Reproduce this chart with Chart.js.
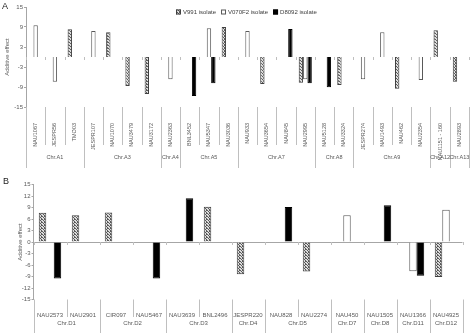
<!DOCTYPE html>
<html>
<head>
<meta charset="utf-8">
<script src="https://cdn.jsdelivr.net/npm/chart.js@4.4.1/dist/chart.umd.min.js"></script>
<style>
  body { margin: 0; background: #fff; }
  #wrap { position: relative; width: 474px; height: 335px; overflow: hidden; font-family: "Liberation Sans", Arial, sans-serif; }
  canvas { position: absolute; left: 0; }
  .panel { position: absolute; font-size: 9px; line-height: 9px; color: #222; }
</style>
</head>
<body>
<div id="wrap">
  <canvas id="chartA" width="474" height="168" style="top:0"></canvas>
  <canvas id="chartB" width="474" height="167" style="top:168px"></canvas>
  <div class="panel" style="left:2px;top:2px">A</div>
  <div class="panel" style="left:3px;top:177px">B</div>
</div>
<script>
// Axe des valeurs (commun aux deux panneaux)
const yMin = -15;
const yMax = 15;
const yStep = 3;

const seriesNames = ['V991 isolate', 'V070F2 isolate', 'D8092 isolate'];

// Panneau A
const catsA = ['NAU1067', 'JESPR56', 'TMO03', 'JESPR107', 'NAU1070', 'NAU3479', 'NAU3172', 'NAU2363',
  'BNL3452', 'NAU5347', 'NAU3036', 'NAU933', 'NAU3654', 'NAU845', 'NAU2995', 'NAU5128', 'NAU3324',
  'JESPR274', 'NAU1493', 'NAU462', 'NAU2354', 'NAU1151 - 160', 'NAU2893'];
const groupNamesA = ['Chr.A1', 'Chr.A3', 'Chr.A4', 'Chr.A5', 'Chr.A7', 'Chr.A8', 'Chr.A9', 'Chr.A12', 'Chr.A13'];
const groupSizesA = [3, 4, 1, 3, 4, 2, 4, 1, 1];
const v991A  = [null, null, 8.3, null, 7.4, -8.7, -11.1, null, null, null, 9.0, null, -8.1, null, -7.7, null, -8.4, null, null, -9.5, null, 8.0, -7.4];
const v070A  = [9.5, -7.4, null, 7.8, null, null, null, -6.7, null, 8.6, null, 7.8, null, null, -6.7, null, null, -6.7, 7.4, null, -6.9, null, null];
const d8092A = [null, null, null, null, null, null, null, null, -11.7, -7.9, null, null, null, 8.4, -7.9, -9.1, null, null, null, null, null, null, null];

// Panneau B
const catsB = ['NAU2573', 'NAU2901', 'CIR097', 'NAU5467', 'NAU3639', 'BNL2496', 'JESPR220', 'NAU828',
  'NAU2274', 'NAU450', 'NAU1505', 'NAU1366', 'NAU4925'];
const groupNamesB = ['Chr.D1', 'Chr.D2', 'Chr.D3', 'Chr.D4', 'Chr.D5', 'Chr.D7', 'Chr.D8', 'Chr.D11', 'Chr.D12'];
const groupSizesB = [2, 2, 2, 1, 2, 1, 1, 1, 1];
const v991B  = [7.6, 7.0, 7.7, null, null, 9.2, -8.4, null, -7.7, null, null, null, -9.1];
const v070B  = [null, null, null, null, null, null, null, null, null, 7.0, null, -7.6, 8.4];
const d8092B = [-9.5, null, null, -9.5, 11.4, null, null, 9.1, null, null, 9.6, -8.8, null];

Chart.defaults.font.family = '"Liberation Sans", Arial, sans-serif';
Chart.defaults.color = '#595959';

// Motif hachuré pour V991
function hachure(ctx) {
  const c = document.createElement('canvas');
  c.width = 3; c.height = 3;
  const g = c.getContext('2d');
  g.fillStyle = '#dcdcdc'; g.fillRect(0, 0, 3, 3);
  g.fillStyle = '#5a5a5a';
  g.fillRect(0, 0, 1, 1); g.fillRect(1, 1, 1, 1); g.fillRect(2, 2, 1, 1); g.fillRect(2, 0, 1, 1);
  return ctx.createPattern(c, 'repeat');
}

// Lignes de séparation et noms des chromosomes sous l'axe
const groupAxis = {
  id: 'groupAxis',
  afterDraw(chart, args, o) {
    const ctx = chart.ctx;
    const xs = chart.scales.x;
    const n = chart.data.labels.length;
    const w = xs.width / n;
    const edge = i => xs.getPixelForValue(0) - w / 2 + i * w;
    const bottom = chart.chartArea.bottom;
    const y0 = chart.scales.y.getPixelForValue(0);

    const bornes = new Set([0]);
    let acc = 0;
    o.sizes.forEach(s => { acc += s; bornes.add(acc); });

    ctx.save();
    ctx.strokeStyle = '#bfbfbf';
    ctx.lineWidth = 1;
    ctx.beginPath();
    for (let i = 0; i <= n; i++) {
      const x = Math.round(edge(i)) + 0.5;
      ctx.moveTo(x, y0);
      ctx.lineTo(x, y0 + 3);
      ctx.moveTo(x, bottom);
      ctx.lineTo(x, bottom + (bornes.has(i) ? o.longEnd : o.shortEnd));
    }
    ctx.stroke();

    ctx.fillStyle = '#595959';
    ctx.font = o.fontSize + 'px "Liberation Sans", Arial, sans-serif';
    ctx.textAlign = 'center';
    ctx.textBaseline = 'middle';
    acc = 0;
    o.names.forEach((nom, k) => {
      ctx.fillText(nom, edge(acc + o.sizes[k] / 2), o.labelY);
      acc += o.sizes[k];
    });
    ctx.restore();
  }
};

// Légende dessinée dans la zone du graphique
const isoLegend = {
  id: 'isoLegend',
  afterDraw(chart, args, o) {
    if (!o.show) return;
    const ctx = chart.ctx;
    ctx.save();
    ctx.font = '6px "Liberation Sans", Arial, sans-serif';
    ctx.textBaseline = 'middle';
    let x = o.x;
    chart.data.datasets.forEach(ds => {
      ctx.fillStyle = ds.backgroundColor;
      ctx.fillRect(x, o.y - 2.5, 5, 5);
      ctx.strokeStyle = ds.borderColor;
      ctx.lineWidth = 1;
      ctx.strokeRect(x + 0.5, o.y - 2, 4, 4);
      ctx.fillStyle = '#404040';
      ctx.fillText(ds.label, x + 7, o.y);
      x += 7 + ctx.measureText(ds.label).width + 5;
    });
    ctx.restore();
  }
};

function datasets(a, b, c, motif) {
  return [
    { label: seriesNames[0], data: a, backgroundColor: motif, borderColor: '#404040', borderWidth: 1 },
    { label: seriesNames[1], data: b, backgroundColor: '#ffffff', borderColor: '#595959', borderWidth: 1 },
    { label: seriesNames[2], data: c, backgroundColor: '#000000', borderColor: '#000000', borderWidth: 1 }
  ];
}

function options(cfg) {
  return {
    responsive: false,
    animation: false,
    layout: { padding: { top: cfg.top, right: cfg.right, left: 0, bottom: 0 } },
    datasets: { bar: { categoryPercentage: cfg.catPct, barPercentage: 1 } },
    plugins: {
      legend: { display: false },
      tooltip: { enabled: false },
      groupAxis: cfg.groups,
      isoLegend: cfg.legend
    },
    scales: {
      x: {
        grid: { display: false },
        border: { display: false },
        ticks: { autoSkip: false, minRotation: cfg.rot, maxRotation: cfg.rot, padding: cfg.tickPad, font: { size: cfg.catFont } },
        afterFit: s => { s.height = cfg.xHeight; }
      },
      y: {
        min: yMin,
        max: yMax,
        ticks: { stepSize: yStep, padding: 1, font: { size: 6 } },
        grid: {
          color: c => (c.tick && c.tick.value === 0) ? '#a6a6a6' : 'rgba(0,0,0,0)',
          tickColor: '#a6a6a6',
          tickLength: 2
        },
        border: { display: true, color: '#a6a6a6' },
        title: { display: true, text: 'Additive effect', font: { size: 6 }, padding: { top: cfg.titlePad, bottom: 0 } },
        afterFit: s => { s.width = cfg.yWidth; }
      }
    }
  };
}

document.addEventListener('DOMContentLoaded', function () {
  const ctxA = document.getElementById('chartA').getContext('2d');
  new Chart(ctxA, {
    type: 'bar',
    data: { labels: catsA, datasets: datasets(v991A, v070A, d8092A, hachure(ctxA)) },
    options: options({
      top: 7, right: 3, yWidth: 26, xHeight: 61, catPct: 0.68, rot: 90, tickPad: 8, catFont: 5.5, titlePad: 4,
      groups: { names: groupNamesA, sizes: groupSizesA, shortEnd: 38, longEnd: 61, labelY: 157, fontSize: 5.5 },
      legend: { show: true, x: 176, y: 12 }
    }),
    plugins: [groupAxis, isoLegend]
  });

  const ctxB = document.getElementById('chartB').getContext('2d');
  new Chart(ctxB, {
    type: 'bar',
    data: { labels: catsB, datasets: datasets(v991B, v070B, d8092B, hachure(ctxB)) },
    options: options({
      top: 16.5, right: 11.5, yWidth: 33.5, xHeight: 35.5, catPct: 0.68, rot: 0, tickPad: 4.5, catFont: 6, titlePad: 17,
      groups: { names: groupNamesB, sizes: groupSizesB, shortEnd: 17.5, longEnd: 33.5, labelY: 155, fontSize: 6 },
      legend: { show: false }
    }),
    plugins: [groupAxis, isoLegend]
  });
});
</script>
</body>
</html>
